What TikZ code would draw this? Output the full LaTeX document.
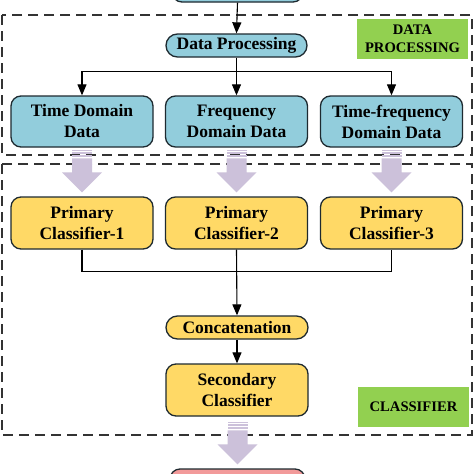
\documentclass[tikz,border=0pt]{standalone}
\usepackage{fontspec}
\setmainfont{Liberation Serif}
\usetikzlibrary{arrows.meta,calc}
\definecolor{boxblue}{HTML}{92CDDC}
\definecolor{boxyellow}{HTML}{FFD966}
\definecolor{labgreen}{HTML}{92D050}
\definecolor{fatc}{HTML}{CCC1DA}
\definecolor{boxred}{HTML}{F29A9A}
\definecolor{edge}{HTML}{1E2A30}
\tikzset{
  bluebox/.style={draw=edge,line width=1.3pt,fill=boxblue,rounded corners=10pt,minimum width=142pt,minimum height=51pt,align=center,inner sep=0pt,font=\fontsize{17.5}{21}\selectfont\bfseries},
  yelbox/.style={bluebox,fill=boxyellow},
  pillblue/.style={bluebox,rounded corners=11.5pt,minimum height=23pt},
  pillyel/.style={pillblue,fill=boxyellow},
  greenlab/.style={fill=labgreen,minimum width=111pt,minimum height=40pt,align=center,inner sep=0pt,font=\fontsize{14.6}{17.7}\selectfont\bfseries},
  arr/.style={line width=1.1pt,-{Triangle[length=11pt,width=9pt]}},
  plain/.style={line width=1.1pt},
  dashbox/.style={line width=2.2pt,dash pattern=on 10pt off 6pt,draw=black!80},
}
\newcommand\fatarr[1]{%
  \fill[fatc] ($(#1.north)+(0,-4)$) -- ++(-20,-20) -- ++(10,0) -- ++(0,-14) -- ++(20,0) -- ++(0,14) -- ++(10,0) -- cycle;
  \fill[fatc] ($(#1.north)+(-10,-39.8)$) rectangle ++(20,-1.6);
  \fill[fatc] ($(#1.north)+(-10,-42.4)$) rectangle ++(20,-1.6);
  \fill[fatc] ($(#1.north)+(-10,-45)$) rectangle ++(20,-1.6);
}
\begin{document}
\begin{tikzpicture}[x=1pt,y=-1pt]
\useasboundingbox (0,0) rectangle (474,474);
\fill[white] (0,0) rectangle (474,474);
% dashed group frames
\draw[dashbox] (2,15) rectangle (472,155);
\draw[dashbox] (2,164) rectangle (472,435);
% nodes
\node[bluebox,minimum width=131pt,minimum height=40pt] (top) at (237.5,-18) {};
\node[pillblue,minimum width=141pt] (dp) at (236.5,45.5) {Data Processing};
\node[greenlab] (g1) at (412.5,39) {DATA\\PROCESSING};
\node[bluebox] (t1) at (82,121.5) {Time Domain\\Data};
\node[bluebox] (t2) at (236.5,121.5) {Frequency\\Domain Data};
\node[bluebox] (t3) at (391.5,121.5) {Time-frequency\\Domain Data};
\node[yelbox,minimum height=52pt] (p1) at (82,223) {Primary\\Classifier-1};
\node[yelbox,minimum height=52pt] (p2) at (236.5,223) {Primary\\Classifier-2};
\node[yelbox,minimum height=52pt] (p3) at (391.5,223) {Primary\\Classifier-3};
\node[pillyel] (cc) at (237,327.5) {Concatenation};
\node[yelbox,minimum height=52pt] (sc) at (237,390) {Secondary\\Classifier};
\node[greenlab] (g2) at (413.5,407) {CLASSIFIER};
\node[bluebox,fill=boxred,minimum width=135pt,minimum height=40pt] (out) at (237.5,489) {};
% connectors
\draw[arr] (top.south) -- (dp.north);
\coordinate (split) at ($(dp.south)+(0,14)$);
\draw[arr] (dp.south) -- (t2.north);
\draw[arr] (split) -| (t1.north);
\draw[arr] (split) -| (t3.north);
\coordinate (join) at ($(p2.south)+(0,22)$);
\draw[plain] (p1.south) |- (join) -| (p3.south);
\draw[arr] (p2.south) -- (cc.north);
\draw[arr] (cc.south) -- (sc.north);
% fat arrows
\fatarr{p1}
\fatarr{p2}
\fatarr{p3}
\fatarr{out}
\end{tikzpicture}
\end{document}
